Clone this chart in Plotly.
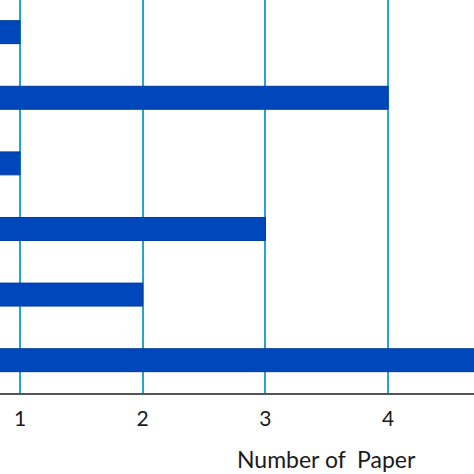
import plotly.graph_objects as go

# categories (labels are cut off on the left in the reference)
categories = ['C1', 'C2', 'C3', 'C4', 'C5', 'C6']
papers = [5, 2, 3, 1, 4, 1]

fig = go.Figure()

fig.add_trace(
    go.Bar(
        x = papers,
        y = categories,
        orientation = 'h',
        marker = dict(color = '#0047BC', line = dict(color = '#003A9C', width = 1)),
        width = 0.35
    )
)

# axis title, placed under the 3.5 mark like the original
fig.add_annotation(
    text = 'Number of  Paper',
    x = 3.5, xref = 'x',
    y = 0, yref = 'y domain', yshift = -66,
    yanchor = 'middle',
    showarrow = False,
    font = dict(family = 'Lato', size = 23, color = '#1a1a1a')
)

fig.update_layout(
    width = 474,
    height = 474,
    margin = dict(l = 0, r = 0, t = 0, b = 81),
    plot_bgcolor = 'white',
    paper_bgcolor = 'white',
    showlegend = False,
    bargap = 0.65,

    xaxis = dict(
        range = [0.837, 4.70],
        dtick = 1,
        showgrid = True,
        gridcolor = '#27A4CC',
        gridwidth = 1.5,
        zeroline = False,
        showline = True,
        linecolor = '#555555',
        linewidth = 1.5,
        ticks = 'outside',
        ticklen = 6,
        tickcolor = 'rgba(0,0,0,0)',
        tickfont = dict(family = 'Lato', size = 21, color = '#1a1a1a')
    ),

    yaxis = dict(
        range = [-0.5, 5.49],
        showticklabels = False,
        showgrid = False,
        zeroline = False
    )
)

# drop the default 8px page margin so the figure fills the window
fig.write_html('out.html', config = {'displayModeBar': False},
               post_script = "document.body.style.margin = '0';")
